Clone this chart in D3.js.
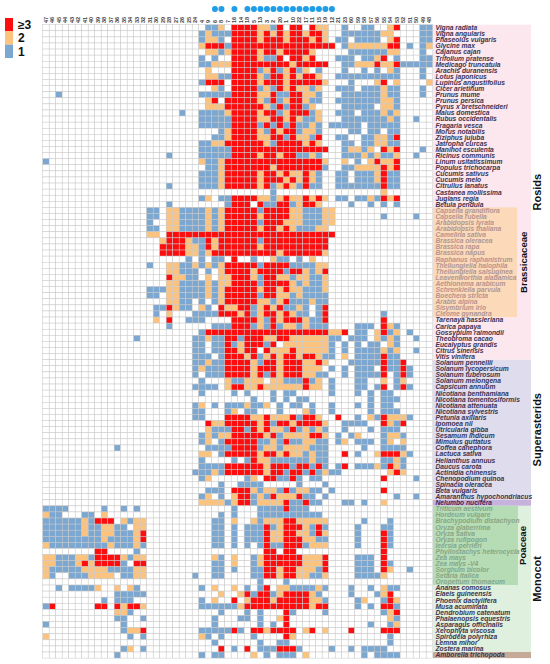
<!DOCTYPE html>
<html>
<head>
<meta charset="utf-8">
<script src="https://cdn.jsdelivr.net/npm/d3@7"></script>
<style>
  html, body { margin: 0; padding: 0; background: #fff; }
  svg { display: block; font-family: "Liberation Sans", Arial, sans-serif; }
</style>
</head>
<body>
<div id="chart"></div>
<script>
// species, top to bottom
const species = [
  "Vigna radiata", "Vigna angularis", "Phaseolus vulgaris", "Glycine max", "Cajanus cajan",
  "Trifolium pratense", "Medicago truncatula", "Arachis duranensis", "Lotus japonicus",
  "Lupinus angustifolius", "Cicer arietinum", "Prunus mume", "Prunus persica",
  "Pyrus x bretschneideri", "Malus domestica", "Rubus occidentalis", "Fragaria vesca",
  "Morus notabilis", "Ziziphus jujuba", "Jatropha curcas", "Manihot esculenta",
  "Ricinus communis", "Linum usitatissimum", "Populus trichocarpa", "Cucumis sativus",
  "Cucumis melo", "Citrullus lanatus", "Castanea mollissima", "Juglans regia", "Betula pendula",
  "Capsella grandiflora", "Capsella rubella", "Arabidopsis lyrata", "Arabidopsis thaliana",
  "Camelina sativa", "Brassica oleracea", "Brassica rapa", "Brassica napus",
  "Raphanus raphanistrum", "Thellungiella halophila", "Thellungiella salsuginea",
  "Leavenworthia alabamica", "Aethionema arabicum", "Schrenkiella parvula", "Boechera stricta",
  "Arabis alpina", "Sisymbrium irio", "Cleome gynandra",
  "Tarenaya hassleriana", "Carica papaya", "Gossypium raimondii", "Theobroma cacao",
  "Eucalyptus grandis", "Citrus sinensis", "Vitis vinifera",
  "Solanum pennellii", "Solanum lycopersicum", "Solanum tuberosum", "Solanum melongena",
  "Capsicum annuum", "Nicotiana benthamiana", "Nicotiana tomentosiformis", "Nicotiana attenuata",
  "Nicotiana sylvestris", "Petunia axillaris", "Ipomoea nil", "Utricularia gibba",
  "Sesamum indicum", "Mimulus guttatus", "Coffea canephora", "Lactuca sativa",
  "Helianthus annuus", "Daucus carota", "Actinidia chinensis", "Chenopodium quinoa",
  "Spinacia oleracea", "Beta vulgaris", "Amaranthus hypochondriacus",
  "Nelumbo nucifera",
  "Triticum aestivum", "Hordeum vulgare", "Brachypodium distachyon", "Oryza glaberrima",
  "Oryza sativa", "Oryza rufipogon", "leersia perrieri", "Phyllostachys heterocycla",
  "Zea mays", "Zea mays -V4", "Sorghum bicolor", "Setaria italica", "Oropetium thomaeum",
  "Ananas comosus", "Elaeis guineensis", "Phoenix dactylifera", "Musa acuminata",
  "Dendrobium catenatum", "Phalaenopsis equestris", "Asparagus officinalis",
  "Xerophyta viscosa", "Spirodela polyrhiza", "Lemna minor", "Zostera marina",
  "Amborella trichopoda"
];

// column (cluster) labels, left to right
const columnLabels = [
  "47","46","45","44","43","42","41","40","39","38","37","36","35","34","33","32",
  "31","30","29","28","27","26","25","24",
  "4","9","6","8","7","16","14","18","5","13","3","2","20","1","10","22","17","11",
  "15","19","12","21","23","60","59","58","57","56","55","54","53","52","51","50","49","48"
];

// columns flagged with a dot above the heatmap
const markedColumns = [26, 27, 29, 31, 32, 33, 34, 35, 36, 37, 38, 39, 40, 41, 42, 43, 44];

// copy number per species (row) and column: "." = 0, "1", "2", "3" = >=3
const cellRows = [
  ".......... .......... .....112.3 3332213.33 .322..1..1 1..23...11",
  ".......... .......... ....121113 3332323233 2332..1111 1122....11",
  ".......... .......... ....1221.3 3332333233 3232.11.11 11.23...11",
  ".......... .......... ....233313 3333333333 33333.1222 22233.1.12",
  ".......... .......... .....22123 3332332333 32.....111 11122...1.",
  ".......... .......... ....1.1..3 3332113.33 23...111.1 123.1...11",
  ".......... .......... ....112223 3333333323 3333..1122 2322311111",
  ".......... .......... .....2...3 3331231231 2.1...1..1 .1.21...1.",
  ".......... .......... .....22113 3332133232 332..11111 11111...1.",
  ".......... .......... ....1333.3 3332333233 3332...1.. .23.2....2",
  ".......... .......... ......21.3 3331213232 212..111.1 11211...1.",
  "..1....... .......... ....111113 3332231133 221...1111 11211...1.",
  ".......... .......... .....23.33 3332131233 211..11111 11221.....",
  ".......... .......... .....22233 3333213133 12....1111 1.221.....",
  ".......... .......... .1..111123 3332331233 312..111.1 11212.....",
  ".......... .......... ....111113 3332233232 112...1111 11121..1..",
  ".......... .......... ....111113 3331313131 121.11111. 11111.....",
  ".......... .......... .......123 3332132331 221....11. 11.11.....",
  ".......... .......... ......1123 3332233132 213..11..1 12213.....",
  ".......... .......... ....112233 3333213333 232...11.1 12211.....",
  ".......... .......... ....111113 3333333333 3333..1221 2.323...1.",
  ".......... .........1 ....111113 3332332331 121...1112 12112..1..",
  "1......... .......... ....211233 3333333333 3332..2.1. 23223.....",
  ".......... .......... .....11233 3333323333 3331..1122 22323.....",
  ".......... .......... ....111233 3332332322 321..11.11 12311.....",
  ".......... .......... ....111233 3332333232 321..11.11 12311.....",
  ".......... .........1 ....111233 3332312321 311..11111 11311.....",
  ".......... .......... .......... .....1.... .......... ..2.......",
  ".......... .......... ....12.113 3332212322 3232.11.11 21323.....",
  ".......... .........1 ........13 33.3113312 332....1.. 1.1.1.....",
  ".......... ......11.2 2111121233 3331333322 11122..... ..........",
  ".......... ......11.2 2111121233 3332333322 11122..... ..1....1..",
  ".......... ......1..2 2111121233 3331333222 11122..... ..........",
  ".......... ......11.2 2111121233 3332332321 1122...... ..........",
  ".......... ......22.3 3333333333 3333333333 33333..... ..........",
  ".......... ........23 3321132333 3331333333 3333...... ..........",
  ".......... ........33 3322132333 3332333333 3333...... ..........",
  ".......... ........33 3322123333 3333332333 3332...... ..........",
  ".......... .......... ..1.1.11.3 ..1..211.1 .2........ ..........",
  ".......... ......1..2 2112121233 3331333311 1122...... ..........",
  ".......... .........2 2111.1.233 3323333133 2123...... ..........",
  ".......... .........3 2211.2.223 3321332212 2112...... ..........",
  ".......... .........2 2111121223 3331333321 2112...... ..........",
  ".......... ......1112 2111121233 3332332322 1112...... ..........",
  ".......... ......11.2 2111121233 3331332212 1111...... ..........",
  ".......... .........2 211.1.1233 3332212311 1211...... ..........",
  ".......... .......113 211.21.322 3312323112 1.13...... ..........",
  ".......... .......1.2 ...1111333 2312332321 1.13...... ..1.......",
  ".......... .......2.3 ..111....3 3332132333 2113...... ..3.......",
  ".......... .........1 ......1113 3312131221 2111....11 1.321.....",
  ".......... .......... ....133333 3333333333 3333223.11 .2312.1...",
  ".......... ....1..... ...1121133 1333223322 222211.111 .2121..1..",
  ".......... .......... ...11.1131 233313.222 22221.1.1. 11.21.....",
  ".......... .......... ...11.1133 233.322232 22221.1.11 11212..1..",
  ".......... .......... ...111.133 3231232332 33211.2.11 11311.....",
  ".......... .......... ...1121133 3321332333 2232...111 113113....",
  ".......... .......... ...1211133 3323332333 222.1.1.11 1.31131...",
  ".......... .......... ...1.11133 3323132333 2211..1.11 113.131...",
  ".......... .......... ....1...21 1222.22111 312.1...11 ..2.12....",
  ".......... .......... ...1111.23 3223222222 322.1...11 .13.131...",
  ".......... .......... ....1....1 .1...1.11. ....1...1. 1.11......",
  ".......... .......... .......... ..1..1.1.1 1......... 1.111.....",
  ".......... .......... ...12.1.11 12112.1.11 .1..1...1. 1.11......",
  ".......... .......... ...11...12 .11...1... 21..1..... 1.111.....",
  ".......... .......... ...11...33 3322322231 332..3..1. 2132221...",
  ".......... .......... .....32233 3332313323 3332..1111 ..3213....",
  ".......... .......... .....21113 3132322131 2121..1... 1.111.....",
  ".......... .......... ....121223 3333231222 2332.1.12. ..1221....",
  ".......... .......... ....12.133 3331121311 2211.12.11 1.12.2....",
  ".......... .1........ .....11113 3331221222 2111.....1 ..1111....",
  ".......... .......... ....22.133 3332332322 1211..3.1. .233321...",
  ".......... .......... ....1....1 .132211111 1211...... ..1121....",
  ".......... .......... ....111133 3333233313 3131.13.11 121321....",
  ".......... .......... ...1112133 3333233133 131211.... ...232....",
  ".......... .......... ....12.... .12.331131 .11....... ..3....1..",
  ".......... .......... .......1.. 1111.....1 ...1...... ..........",
  ".......... .......... .....111.3 3321221312 211.1..... ..3.......",
  ".......... .......... ....12.1.2 3312132223 11.1...... ....1..1..",
  ".......... .......... ....222212 3312222311 311...11.1 ..2.......",
  "1111.....1 ..1.1..... .........1 ...1111311 1......... ..........",
  "211...11.2 .......... .......1.1 ...1111111 111....... ..........",
  "1111112133 3.2122.... ......11.2 ..21222332 2222.....1 ...1......",
  "1111112112 211.22.... ......11.1 .111312333 2131....1. ..11......",
  "1111112112 211123.... ......11.1 .111322332 2132....1. ..31......",
  "1111111112 111123.... ......11.1 .111322333 2211....1. ..31......",
  "2111111111 211121.... ......11.1 .1.1311333 1222....1. ..31......",
  "........33 ....1..... .......... ....33.33. .......... ..3.......",
  "2211122133 332122.... ......21.2 ..12333333 2223....11 1.3.......",
  "2211123233 331.33.... ......11.2 ..12333333 2223....11 1.31......",
  "2111112222 111122.... ......11.1 ..11332332 2213....11 1.32..1...",
  "21..111222 2.1122.... ...1..11.. ..11332332 2112....11 112.......",
  ".......... .......... .......... ...1...1.. .......... ..........",
  "..1.11112. .2.21..... ....1.2..2 .1.13.2211 1121...1.. 1.211.....",
  ".......... .11111.... .......2.. 2313312333 321....1.. .123......",
  ".........1 .111...... ....1.2..3 .233323333 3221....12 ..132.....",
  "13......33 .32332.... ....111111 2333333333 3233....1. 1.331.....",
  ".......... .221...... .......1.. .1.1...31. ...1...... ..123.....",
  ".......... .11..1.... ......1... 11.1..23.. .......... ...21.....",
  "1......... ..1....... ......1... ...1.1.3.. .......... 1..12.....",
  ".......... ..1223.... ....111113 1.3323333. 23.2...3.. ..333.....",
  "2......... ...1.1.... ....21.1.. ..1....32. .......... ...1......",
  ".......... .......... ......1... ...1..11.. .......... ...1......",
  ".......... ..12.1.... .......3.1 .3.1113331 ....1..1.1 111.......",
  ".......... .1........ ....1.11.. ..2.1.111. 2........1 .1111....."
];

// clade bands beside the labels: first and last row of each
const cladeNames = ["Rosids", "Brassicaceae", "Superasterids", "Nelumbo", "Monocot", "Poaceae", "Amborella"];
const cladeFirst = [0, 30, 55, 78, 79, 79, 103];
const cladeLast  = [54, 47, 77, 78, 102, 91, 103];

const legendValues = [3, 2, 1];
const legendLabels = ["\u22653", "2", "1"];

// ---- drawing ----
const width = 550, height = 664;
const nCols = columnLabels.length;

const svg = d3.select('#chart').append('svg')
    .attr('width', width)
    .attr('height', height);

const x = d3.scaleBand().domain(d3.range(nCols)).range([42.7, 432.7]);
const y = d3.scaleBand().domain(d3.range(species.length)).range([24.7, 658.1]);

const color = d3.scaleOrdinal()
    .domain([0, 1, 2, 3])
    .range(['#ffffff', '#7ba7d1', '#fbc37d', '#fd0d0d']);

// band backgrounds and their styles
const cladeStyle = {
    Rosids:        { fill: '#fde7ee', x1: 531, text: 'Rosids', tx: 537.5, size: 11 },
    Brassicaceae:  { fill: '#fcd9b9', x1: 517, text: 'Brassicaceae', tx: 523.5, size: 9.6 },
    Superasterids: { fill: '#dfdded', x1: 531, text: 'Superasterids', tx: 537.5, size: 11 },
    Nelumbo:       { fill: '#c7b2de', x1: 531 },
    Monocot:       { fill: '#dff0df', x1: 531, text: 'Monocot', tx: 537.5, size: 11 },
    Poaceae:       { fill: '#b6dcb6', x1: 518, text: 'Poaceae', tx: 522.5, size: 9.6 },
    Amborella:     { fill: '#c6aa98', x1: 531 }
};

const clades = cladeNames.map((name, i) => ({ name, first: cladeFirst[i], last: cladeLast[i] }));
const x0 = x.range()[1] + 0.3;

svg.append('g').selectAll('rect')
    .data(clades)
    .join('rect')
    .attr('x', x0)
    .attr('y', d => y(d.first))
    .attr('width', d => cladeStyle[d.name].x1 - x0)
    .attr('height', d => y(d.last) + y.bandwidth() - y(d.first))
    .attr('fill', d => cladeStyle[d.name].fill);

svg.append('g').selectAll('text')
    .data(clades.filter(d => cladeStyle[d.name].text))
    .join('text')
    .attr('transform', d => `translate(${cladeStyle[d.name].tx},${(y(d.first) + y(d.last) + y.bandwidth()) / 2}) rotate(-90)`)
    .attr('text-anchor', 'middle')
    .attr('dy', '0.35em')
    .attr('font-weight', 'bold')
    .attr('font-size', d => cladeStyle[d.name].size)
    .attr('fill', '#111')
    .text(d => cladeStyle[d.name].text);

// heatmap cells
const cells = [];
cellRows.forEach((row, r) => {
    const s = row.replace(/ /g, '').padEnd(nCols, '.').slice(0, nCols);
    s.split('').forEach((ch, c) => cells.push({ r, c, v: ch === '.' ? 0 : +ch }));
});

svg.append('g').selectAll('rect')
    .data(cells)
    .join('rect')
    .attr('x', d => x(d.c))
    .attr('y', d => y(d.r))
    .attr('width', x.bandwidth())
    .attr('height', y.bandwidth())
    .attr('fill', d => color(d.v))
    .attr('stroke', '#c8c8c8')
    .attr('stroke-width', 0.5);

// species labels, coloured by clade
function labelColor(i) {
    if (i >= 30 && i <= 47) return '#b39590';
    if (i >= 79 && i <= 91) return '#86a686';
    if (i === 78) return '#3a2458';
    return '#3c3450';
}

svg.append('g').selectAll('text')
    .data(species)
    .join('text')
    .attr('x', 435.5)
    .attr('y', (d, i) => y(i) + y.bandwidth() / 2)
    .attr('dy', '0.35em')
    .attr('font-size', 6.7)
    .attr('font-weight', 'bold')
    .attr('font-style', 'italic')
    .attr('fill', (d, i) => labelColor(i))
    .text(d => d);

// column labels
svg.append('g').selectAll('text')
    .data(columnLabels)
    .join('text')
    .attr('transform', (d, i) => `translate(${x(i) + x.bandwidth() / 2},23) rotate(-90)`)
    .attr('dy', '0.35em')
    .attr('font-size', 5.6)
    .attr('font-weight', 'bold')
    .attr('fill', '#444')
    .text(d => d);

// marker dots
svg.append('g').selectAll('circle')
    .data(markedColumns)
    .join('circle')
    .attr('cx', d => x(d) + x.bandwidth() / 2)
    .attr('cy', 9)
    .attr('r', 3)
    .attr('fill', '#1f9de6');

// legend
const ly = d3.scaleBand().domain(legendValues).range([18, 58]);

svg.append('g').selectAll('rect')
    .data(legendValues)
    .join('rect')
    .attr('x', 5)
    .attr('y', d => ly(d))
    .attr('width', 8)
    .attr('height', ly.bandwidth())
    .attr('fill', d => color(d));

svg.append('g').selectAll('text')
    .data(legendValues)
    .join('text')
    .attr('x', 18)
    .attr('y', d => ly(d) + ly.bandwidth() / 2)
    .attr('dy', '0.35em')
    .attr('font-size', 12)
    .attr('font-weight', 'bold')
    .attr('fill', '#111')
    .text((d, i) => legendLabels[i]);
</script>
</body>
</html>
